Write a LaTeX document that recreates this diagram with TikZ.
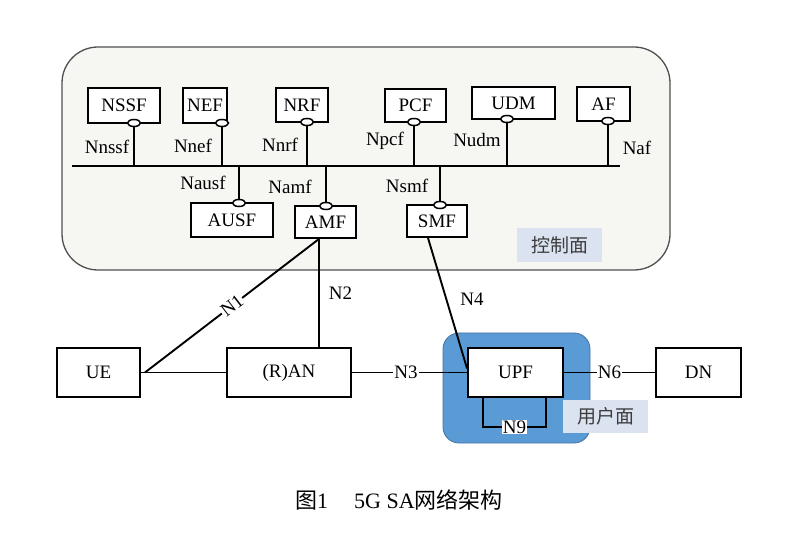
\documentclass[tikz,border=0pt]{standalone}
\usepackage{fontspec}
\setmainfont{Liberation Serif}
\newfontfamily\cjk{Noto Sans CJK SC}
\usetikzlibrary{positioning,shapes.geometric,calc}
\definecolor{cpfill}{RGB}{246,246,243}
\definecolor{cpdraw}{RGB}{80,80,80}
\definecolor{upblue}{RGB}{91,155,213}
\definecolor{updraw}{RGB}{66,114,160}
\definecolor{tagbg}{RGB}{219,227,240}
\definecolor{tagtext}{RGB}{60,60,60}
\tikzset{
  nfbox/.style={draw, line width=1.9pt, fill=white, inner sep=0pt, font=\fontsize{19}{21}\selectfont},
  port/.style={draw, ellipse, line width=1.5pt, fill=white, minimum width=13pt, minimum height=7pt, inner sep=0pt},
  iface/.style={font=\fontsize{19}{21}\selectfont, inner sep=1pt},
  link/.style={line width=1.9pt},
  tag/.style={fill=tagbg, text=tagtext, inner sep=0pt, font=\cjk\fontsize{19}{21}\selectfont}
}
\begin{document}
\begin{tikzpicture}[x=1pt, y=-1pt]
  \useasboundingbox (0,0) rectangle (798,553);

  % control plane
  \filldraw[fill=cpfill, draw=cpdraw, line width=1.3pt, rounded corners=36pt] (62,47) rectangle (670,270);
  \node[tag, minimum width=85pt, minimum height=34pt] (cptag) at (559.5,245) {控制面};

  % user plane
  \filldraw[fill=upblue, draw=updraw, line width=0.8pt, rounded corners=16pt] (443,333) rectangle (590,443);

  % service bus
  \coordinate (busL) at (72,166);
  \coordinate (busR) at (620,166);
  \draw[link] (busL) -- (busR);

  % network functions, top row
  \node[nfbox, minimum width=72pt, minimum height=35pt] (nssf) at (124,105.5) {NSSF};
  \node[nfbox, minimum width=44pt, minimum height=35pt] (nef) at (205,105.5) {NEF};
  \node[nfbox, minimum width=52pt, minimum height=34pt] (nrf) at (302,105) {NRF};
  \node[nfbox, minimum width=61pt, minimum height=33pt] (pcf) at (415.5,105.5) {PCF};
  \node[nfbox, minimum width=83pt, minimum height=32pt] (udm) at (513.5,103) {UDM};
  \node[nfbox, minimum width=53pt, minimum height=34pt] (af) at (603.5,104) {AF};

  % network functions, lower row
  \node[nfbox, minimum width=82pt, minimum height=34pt] (ausf) at (232,220) {AUSF};
  \node[nfbox, minimum width=61pt, minimum height=32pt] (amf) at (325.5,222) {AMF};
  \node[nfbox, minimum width=60pt, minimum height=32pt] (smf) at (437,221) {SMF};

  % service ports
  \node[port] (nssfp) at (134,123) {};
  \node[port] (nefp) at (222,123) {};
  \node[port] (nrfp) at (307,122) {};
  \node[port] (pcfp) at (414,122) {};
  \node[port] (udmp) at (507,119) {};
  \node[port] (afp) at (608,121) {};
  \node[port] (ausfp) at (239,203) {};
  \node[port] (amfp) at (326,206) {};
  \node[port] (smfp) at (440,205) {};

  \foreach \p in {nssfp,nefp,nrfp,pcfp,udmp,afp}
    \draw[link] (\p.south) -- (\p.south |- busL);
  \foreach \p in {ausfp,amfp,smfp}
    \draw[link] (\p.north) -- (\p.north |- busL);

  % service interface names
  \node[iface] (lnssf) at (107,147) {Nnssf};
  \node[iface] (lnef) at (193,146) {Nnef};
  \node[iface] (lnrf) at (280,145) {Nnrf};
  \node[iface] (lpcf) at (385,141) {Npcf};
  \node[iface] (ludm) at (477,140) {Nudm};
  \node[iface] (laf) at (637,148) {Naf};
  \node[iface] (lausf) at (203,183) {Nausf};
  \node[iface] (lamf) at (290,187) {Namf};
  \node[iface] (lsmf) at (407,186) {Nsmf};

  % access and user plane
  \node[nfbox, minimum width=83pt, minimum height=49pt] (ue) at (98.5,372.5) {UE};
  \node[nfbox, minimum width=124pt, minimum height=49pt] (ran) at (289,372.5) {(R)AN};
  \node[nfbox, minimum width=95pt, minimum height=49pt] (upf) at (515.5,372.5) {UPF};
  \node[nfbox, minimum width=85pt, minimum height=49pt] (dn) at (698.5,372.5) {DN};
  \node[tag, minimum width=85pt, minimum height=33pt] (uptag) at (605.5,416.5) {用户面};

  \coordinate (amfb) at ([xshift=-6.5pt]amf.south);
  \coordinate (uej) at ([xshift=4pt]ue.east);
  \draw[link] (ue.east) -- (ran.west);
  \draw[link] (uej) -- node[iface, fill=white, sloped] {N1} (amfb);
  \draw[link] (amfb) -- node[iface, right=8pt] {N2} (amfb |- ran.north);
  \draw[link] (ran.east) -- node[iface, fill=white, pos=.47] {N3} (upf.west);
  \draw[link] ([xshift=-9pt]smf.south) -- node[iface, pos=.47, right=12pt] {N4} ([yshift=4pt]upf.west);
  \draw[link] (upf.east) -- node[iface, fill=white] {N6} (dn.west);
  \draw[link] ([xshift=-32.5pt]upf.south) -- ++(0,29) -- node[iface, fill=white] {N9} ++(63,0) -- ++(0,-29);

  % caption
  \node[font=\fontsize{22}{25}\selectfont] (cap) at (399,500) {{\cjk 图}1\hspace{26pt}5G SA{\cjk 网络架构}};
\end{tikzpicture}
\end{document}
